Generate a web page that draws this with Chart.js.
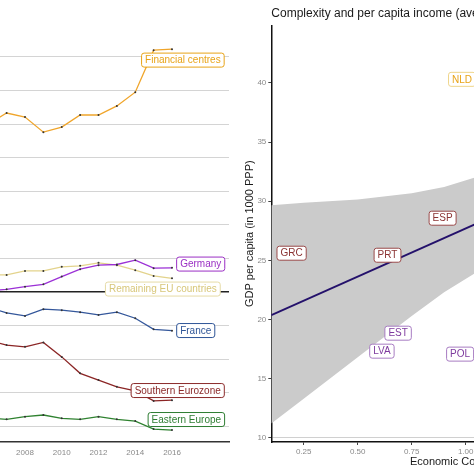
<!DOCTYPE html>
<html>
<head>
<meta charset="utf-8">
<script src="https://cdn.jsdelivr.net/npm/chart.js@4.4.1/dist/chart.umd.min.js"></script>
<style>
  html, body { margin: 0; padding: 0; background: #fff; overflow: hidden; }
  #wrap { position: relative; width: 474px; height: 474px; overflow: hidden; }
  canvas { position: absolute; top: 0; }
  #trend { left: -4px; }
  #complexity { left: 237px; }
</style>
</head>
<body>
<div id="wrap">
  <canvas id="trend" width="241" height="474"></canvas>
  <canvas id="complexity" width="430" height="474"></canvas>
</div>
<script>
// --- left panel: index over time per country group ---
const years = [2006, 2007, 2008, 2009, 2010, 2011, 2012, 2013, 2014, 2015, 2016];
const yearTicks = [2008, 2010, 2012, 2014, 2016];
const financialCentres = [150.0, 153.3, 152.1, 147.6, 149.1, 152.7, 152.7, 155.4, 159.5, 172.0, 172.3];
const germany = [100.4, 100.8, 101.6, 102.3, 104.6, 106.8, 108.0, 108.2, 109.5, 107.1, 107.2];
const remainingEU = [105.1, 105.1, 106.3, 106.3, 107.5, 107.8, 108.7, 108.0, 106.5, 104.8, 104.1];
const france = [95.5, 93.8, 92.9, 94.9, 94.6, 94.0, 93.2, 94.0, 92.2, 88.9, 88.5];
const southernEurozone = [85.7, 84.2, 83.7, 85.0, 80.7, 75.8, 73.8, 71.8, 70.6, 67.6, 67.8];
const easternEurope = [62.5, 62.1, 62.9, 63.4, 62.4, 62.1, 62.9, 62.1, 61.6, 59.2, 58.9];

// --- right panel: complexity vs GDP per capita ---
const complexityTicks = [0.25, 0.5, 0.75, 1.0, 1.25, 1.5, 1.75];
const gdpTicks = [10, 15, 20, 25, 30, 35, 40];
const bandX = [0.10, 0.25, 0.50, 0.75, 0.90, 1.05];
const bandUpper = [29.65, 29.87, 30.15, 30.66, 31.2, 32.05];
const bandLower = [11.2, 13.3, 16.8, 20.3, 22.3, 24.0];
const fitX = [0.10, 1.05];
const fitY = [20.36, 28.1];
const countries = ["GRC", "PRT", "ESP", "NLD", "EST", "LVA", "POL"];
const countryComplexity = [0.194, 0.638, 0.893, 0.983, 0.687, 0.612, 0.974];
const countryGdp = [25.6, 25.43, 28.56, 40.3, 18.84, 17.32, 17.07];

Chart.defaults.font.family = '"Liberation Sans", Arial, sans-serif';

function drawTag(ctx, text, cx, cy, color, border) {
  ctx.save();
  ctx.font = '10px "Liberation Sans", Arial, sans-serif';
  const w = ctx.measureText(text).width + 7;
  const h = 14;
  ctx.beginPath();
  ctx.roundRect(cx - w / 2, cy - h / 2, w, h, 2.5);
  ctx.fillStyle = "#fff";
  ctx.fill();
  ctx.lineWidth = 1;
  ctx.strokeStyle = border;
  ctx.stroke();
  ctx.fillStyle = color;
  ctx.textAlign = "center";
  ctx.textBaseline = "middle";
  ctx.fillText(text, cx, cy + 0.5);
  ctx.restore();
}

// labels are placed in data coordinates and converted by the chart scales
function makeTags(items) {
  return {
    id: "tags",
    afterDatasetsDraw(chart) {
      const sx = chart.scales.x, sy = chart.scales.y;
      items.forEach(t => drawTag(chart.ctx, t.text,
        sx.getPixelForValue(t.at[0]), sy.getPixelForValue(t.at[1]),
        t.color, t.border || t.color));
    }
  };
}

const groups = [
  { name: "Financial centres", values: financialCentres, color: "#F0A52A" },
  { name: "Germany", values: germany, color: "#9B30D6" },
  { name: "Remaining EU countries", values: remainingEU, color: "#E3D38C" },
  { name: "France", values: france, color: "#34579B" },
  { name: "Southern Eurozone", values: southernEurozone, color: "#8B2525" },
  { name: "Eastern Europe", values: easternEurope, color: "#2F8230" }
];

const trendTags = [
  { text: "Financial centres", at: [2016.59, 169.05], color: "#E8A317" },
  { text: "Germany", at: [2017.56, 108.33], color: "#9A2FC4" },
  { text: "Remaining EU countries", at: [2015.50, 100.89], color: "#D8C77A", border: "#E6DBA6" },
  { text: "France", at: [2017.29, 88.54], color: "#2F5597" },
  { text: "Southern Eurozone", at: [2016.31, 70.68], color: "#8B2A2A" },
  { text: "Eastern Europe", at: [2016.78, 62.05], color: "#2E7D32" }
];

new Chart(document.getElementById("trend"), {
  type: "line",
  data: {
    datasets: groups.map(g => ({
      label: g.name,
      data: years.map((yr, i) => ({ x: yr, y: g.values[i] })),
      borderColor: g.color,
      borderWidth: 1.3,
      pointRadius: 1,
      pointBackgroundColor: "#333",
      pointBorderWidth: 0,
      tension: 0
    }))
  },
  options: {
    responsive: false,
    animation: false,
    layout: { padding: { top: 25, right: 8, left: 0, bottom: 0 } },
    plugins: { legend: { display: false }, tooltip: { enabled: false } },
    scales: {
      x: {
        type: "linear", min: 2006.64, max: 2019.1,
        afterBuildTicks: s => { s.ticks = yearTicks.map(v => ({ value: v })); },
        ticks: { color: "#8a8a8a", font: { size: 8 }, padding: 6, callback: v => String(v) },
        grid: { display: false, drawTicks: false },
        border: { color: "#333", width: 1.5 },
        afterFit: s => { s.height = 32; }
      },
      y: {
        min: 55.36, max: 179.5,
        afterBuildTicks: s => { s.ticks = s.ticks.filter(t => Math.abs(t.value % 10) < 1e-6); },
        ticks: { display: false, stepSize: 10 },
        grid: {
          color: c => c.tick.value === 100 ? "#222" : "#d4d4d4",
          lineWidth: c => c.tick.value === 100 ? 1.4 : 1.1,
          drawTicks: false
        },
        border: { display: false },
        afterFit: s => { s.width = 0; }
      }
    }
  },
  plugins: [makeTags(trendTags)]
});

const countryStyle = {
  GRC: ["#8B3333", "#9A4A4A"], PRT: ["#8B3333", "#9A4A4A"], ESP: ["#8B3333", "#9A4A4A"],
  NLD: ["#E8A317", "#EFD58A"],
  EST: ["#7E3A9E", "#A77BC2"], LVA: ["#7E3A9E", "#A77BC2"], POL: ["#7E3A9E", "#A77BC2"]
};
const countryTags = countries.map((c, i) => ({
  text: c, at: [countryComplexity[i], countryGdp[i]],
  color: countryStyle[c][0], border: countryStyle[c][1]
}));

// first dataset is painted last, so the fit line goes first to sit on top of the band
new Chart(document.getElementById("complexity"), {
  type: "line",
  data: {
    datasets: [
      { data: fitX.map((v, i) => ({ x: v, y: fitY[i] })), borderColor: "#24116b", borderWidth: 2, pointRadius: 0 },
      { data: bandX.map((v, i) => ({ x: v, y: bandLower[i] })), borderWidth: 0, pointRadius: 0, fill: false },
      { data: bandX.map((v, i) => ({ x: v, y: bandUpper[i] })), borderWidth: 0, pointRadius: 0, fill: "-1", backgroundColor: "#cbcbcb" }
    ]
  },
  options: {
    responsive: false,
    animation: false,
    layout: { padding: { top: 0, right: 12.7, left: 0, bottom: 0 } },
    plugins: {
      legend: { display: false },
      tooltip: { enabled: false },
      title: {
        display: true, text: "Complexity and per capita income (averages)",
        align: "start", fullSize: false, color: "#1a1a1a",
        font: { size: 12, weight: "normal" }, padding: { top: 6, bottom: 5 }
      }
    },
    scales: {
      x: {
        type: "linear", min: 0.1, max: 1.873,
        afterBuildTicks: s => { s.ticks = complexityTicks.map(v => ({ value: v })); },
        ticks: { color: "#8a8a8a", font: { size: 8 }, padding: 2, callback: v => v.toFixed(2) },
        grid: { drawOnChartArea: false, drawTicks: true, tickLength: 3, tickColor: "#444" },
        border: { color: "#111", width: 1.5 },
        title: { display: true, text: "Economic Complexity", color: "#1a1a1a", font: { size: 11 }, padding: { top: 0, bottom: 5.4 } },
        afterFit: s => { s.height = 32; }
      },
      y: {
        min: 9.64, max: 44.86,
        afterBuildTicks: s => { s.ticks = gdpTicks.map(v => ({ value: v })); },
        ticks: { color: "#8a8a8a", font: { size: 8 }, padding: 2 },
        grid: {
          color: c => c.tick.value === 10 ? "#d0d0d0" : "rgba(0,0,0,0)",
          drawTicks: true, tickLength: 3, tickColor: "#444"
        },
        border: { color: "#111", width: 1.5 },
        title: { display: true, text: "GDP per capita (in 1000 PPP)", color: "#1a1a1a", font: { size: 11 }, padding: { top: 6, bottom: 0 } },
        afterFit: s => { s.width = 34.3; }
      }
    }
  },
  plugins: [makeTags(countryTags)]
});
</script>
</body>
</html>
